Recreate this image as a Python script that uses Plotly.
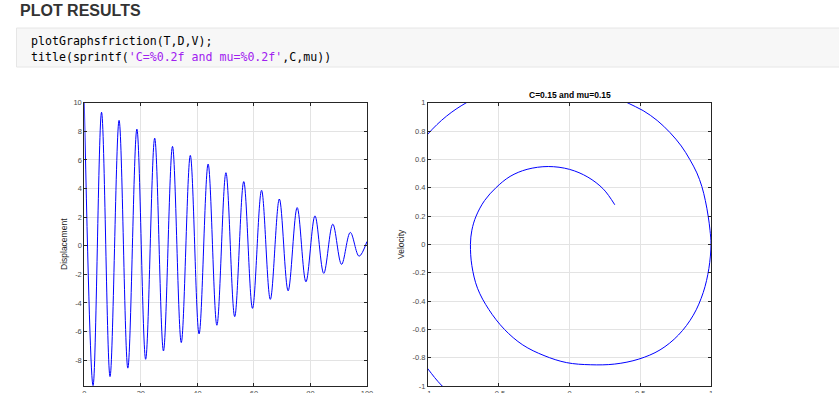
import plotly.graph_objects as go

# ---------------- data ----------------
# Left panel: displacement vs time (successive peaks / troughs, then the end point)
time_pts = [0.0, 3.1, 6.1, 9.1, 12.3, 15.4, 18.6, 21.7, 24.9, 28.0, 31.2, 34.3,
            37.5, 40.6, 43.8, 46.9, 50.1, 53.2, 56.4, 59.5, 62.7, 65.8, 69.0,
            72.1, 75.3, 78.4, 81.6, 84.7, 87.9, 91.0, 94.1, 97.2, 100.0]
disp_pts = [10.0, -9.78, 9.34, -9.15, 8.77, -8.56, 8.16, -7.94, 7.53, -7.36,
            6.95, -6.77, 6.32, -6.17, 5.72, -5.56, 5.11, -4.96, 4.49, -4.38,
            3.88, -3.75, 3.27, -3.15, 2.67, -2.52, 2.09, -1.93, 1.51, -1.30,
            0.93, -0.73, 0.30]

# Right panel: velocity vs displacement (phase portrait, clockwise spiral;
# points outside the visible window are estimates)
phase_x = [-0.50, -0.70, -0.90, -1.00, -1.10, -1.18, -1.25, -1.29, -1.30,
           -1.27, -1.20, -1.11, -1.00, -0.87, -0.73, -0.58, -0.42, -0.27,
           -0.15, 0.00, 0.15, 0.30, 0.41, 0.52, 0.62, 0.71, 0.79, 0.85, 0.90,
           0.935, 0.96, 0.98, 0.993, 1.00,
           0.985, 0.945, 0.875, 0.77, 0.64, 0.49, 0.32, 0.15, -0.02, -0.18,
           -0.33, -0.46, -0.57, -0.65, -0.69, -0.70,
           -0.69, -0.66, -0.60, -0.52, -0.42, -0.30, -0.15, 0.00, 0.13, 0.24, 0.32]
phase_v = [-1.30, -1.17, -1.00, -0.88, -0.74, -0.58, -0.38, -0.18, 0.00,
           0.25, 0.47, 0.63, 0.78, 0.905, 1.00, 1.07, 1.115, 1.14,
           1.15, 1.14, 1.11, 1.06, 1.00, 0.945, 0.875, 0.79, 0.695, 0.60, 0.505,
           0.41, 0.31, 0.20, 0.10, 0.00,
           -0.17, -0.34, -0.50, -0.64, -0.745, -0.81, -0.845, -0.85, -0.835, -0.785,
           -0.71, -0.60, -0.46, -0.31, -0.15, 0.00,
           0.10, 0.20, 0.31, 0.40, 0.48, 0.53, 0.55, 0.53, 0.475, 0.39, 0.28]

left_xticks = [0, 20, 40, 60, 80, 100]
left_yticks = [-8, -6, -4, -2, 0, 2, 4, 6, 8, 10]
right_xticks = [-1, -0.5, 0, 0.5, 1]
right_yticks = [-1, -0.8, -0.6, -0.4, -0.2, 0, 0.2, 0.4, 0.6, 0.8, 1]

plot_title = "C=0.15 and mu=0.15"
code_line1 = "plotGraphsfriction(T,D,V);"
code_line2_a = "title(sprintf("
code_line2_b = "'C=%0.2f and mu=%0.2f'"
code_line2_c = ",C,mu))"

# ---------------- layout helpers ----------------
W, H = 839, 393
def fx(p):
    return p / W
def fy(p):
    return 1 - p / H

def lab(v):
    return "%g" % v

AX_COL = "#262626"
GRID = "#e3e3e3"
SANS = "Liberation Sans, Arial, sans-serif"
TICKFONT = dict(family=SANS, size=7.5, color="#4a4a4a")

fig = go.Figure()

fig.add_trace(go.Scatter(x=time_pts, y=disp_pts, mode="lines",
                         line=dict(color="#0000ff", width=1, shape="spline", smoothing=1.0),
                         xaxis="x", yaxis="y", showlegend=False, hoverinfo="skip"))
fig.add_trace(go.Scatter(x=phase_x, y=phase_v, mode="lines",
                         line=dict(color="#0000ff", width=1, shape="spline", smoothing=1.0),
                         xaxis="x2", yaxis="y2", showlegend=False, hoverinfo="skip"))

def axis(dom, rng, vals, anchor):
    return dict(domain=dom, range=rng, tickvals=vals, ticktext=[lab(v) for v in vals],
                showgrid=True, gridcolor=GRID, gridwidth=1, zeroline=False,
                showline=True, linecolor=AX_COL, linewidth=1, mirror="ticks",
                ticks="inside", ticklen=3, tickcolor=AX_COL, tickwidth=1,
                tickfont=TICKFONT, anchor=anchor, fixedrange=True, automargin=False)

TOP, BOT = 102.8, 386.0
fig.update_layout(
    width=W, height=H, margin=dict(l=0, r=0, t=0, b=0, autoexpand=False),
    paper_bgcolor="white", plot_bgcolor="white",
    xaxis=axis([fx(84.3), fx(367.0)], [0, 100], left_xticks, "y"),
    yaxis=axis([fy(BOT), fy(TOP)], [-9.81, 10], left_yticks, "x"),
    xaxis2=axis([fx(428.0), fx(711.0)], [-1, 1], right_xticks, "y2"),
    yaxis2=axis([fy(BOT), fy(TOP)], [-1, 1], right_yticks, "x2"),
)

shapes = [dict(type="rect", xref="paper", yref="paper",
               x0=fx(16.5), x1=fx(860), y0=fy(67), y1=fy(28),
               fillcolor="#f7f7f7", line=dict(color="#e6e6e6", width=1), layer="below")]
fig.update_layout(shapes=shapes)

MONO = "DejaVu Sans Mono, Liberation Mono, monospace"
ann = [
    dict(text="PLOT RESULTS", x=fx(17.5), y=fy(10.5), xanchor="left", yanchor="middle",
         font=dict(family=SANS, size=16, color="#333333", weight="bold")),
    dict(text=code_line1, x=fx(28.5), y=fy(41.5), xanchor="left", yanchor="middle",
         font=dict(family=MONO, size=11.6, color="#000000")),
    dict(text=code_line2_a + '<span style="color:#a020f0">' + code_line2_b + "</span>" + code_line2_c,
         x=fx(28.5), y=fy(56.5), xanchor="left", yanchor="middle",
         font=dict(family=MONO, size=11.6, color="#000000")),
    dict(text=plot_title, x=fx(569.5), y=fy(95.5), xanchor="center", yanchor="middle",
         font=dict(family=SANS, size=8.5, color="#000000", weight="bold")),
    dict(text="Displacement", x=fx(63.5), y=fy(244.5), xanchor="center", yanchor="middle",
         textangle=-90, font=dict(family=SANS, size=8.5, color="#262626")),
    dict(text="Velocity", x=fx(400.5), y=fy(244.5), xanchor="center", yanchor="middle",
         textangle=-90, font=dict(family=SANS, size=8.5, color="#262626")),
]
for a in ann:
    a.update(xref="paper", yref="paper", showarrow=False)
fig.update_layout(annotations=ann)

fig.write_html("out.html", config={"displayModeBar": False},
               post_script="document.body.style.margin='0';document.body.style.overflow='hidden';")
